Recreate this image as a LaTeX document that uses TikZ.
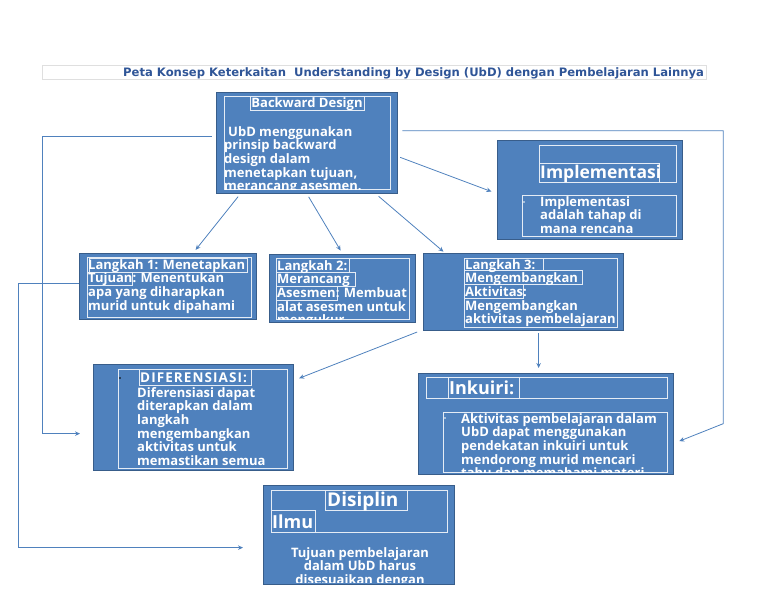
\documentclass[tikz,border=0pt]{standalone}
\usepackage{fontspec}
\setmainfont{Open Sans}
\newfontfamily\headfont{DejaVu Sans}
\usepackage{tikz}
\usetikzlibrary{arrows.meta,positioning,calc}

\definecolor{boxblue}{HTML}{4F81BD}
\definecolor{boxedge}{HTML}{385D8A}
\definecolor{linkblue}{HTML}{4F81BD}
\definecolor{headblue}{HTML}{2F5597}

\newcommand{\ubdfont}{\fontsize{13}{13.7}\selectfont\bfseries}
\newcommand{\bigfont}{\fontsize{18}{20}\selectfont\bfseries}

\tikzset{
    ubdbox/.style={draw=boxedge, line width=1.3pt, fill=boxblue, anchor=north west, inner sep=0pt},
    frame/.style={draw=white!85!boxblue, line width=0.5pt},
    boxtext/.style={text=white, font=\ubdfont, align=left, anchor=north west, inner sep=0pt},
    bigtext/.style={text=white, font=\bigfont, anchor=base west, inner sep=0pt},
    link/.style={draw=linkblue, line width=0.8pt, -{Stealth[length=5pt,width=4.5pt]}}
}

\begin{document}
\begin{tikzpicture}[x=1pt,y=-1pt]
    \useasboundingbox (0,0) rectangle (768,594);

    % Title
    \draw[gray!25, line width=0.5pt] (42,65) rectangle (706,79);
    \node[anchor=base west, inner sep=0pt, text=headblue, font=\headfont\fontsize{11.6}{12}\selectfont\bfseries] (title) at (123,76.5) {Peta Konsep Keterkaitan\ \ Understanding by Design (UbD) dengan Pembelajaran Lainnya};

    % Boxes
    \node[ubdbox, minimum width=181pt, minimum height=101pt] (bd) at (216,92) {};
    \node[ubdbox, minimum width=185pt, minimum height=99pt] (impl) at (497,140) {};
    \node[ubdbox, minimum width=177pt, minimum height=66pt] (l1) at (79,253) {};
    \node[ubdbox, minimum width=146pt, minimum height=68pt] (l2) at (269,254) {};
    \node[ubdbox, minimum width=200pt, minimum height=77pt] (l3) at (423,253) {};
    \node[ubdbox, minimum width=200pt, minimum height=106pt] (dif) at (93,364) {};
    \node[ubdbox, minimum width=255pt, minimum height=101pt] (ink) at (418,373) {};
    \node[ubdbox, minimum width=191pt, minimum height=99pt] (dis) at (263,485) {};

    % Backward Design
    \draw[frame] (224,96) rectangle (390,189);
    \draw[frame] (250,96) rectangle (364,110);
    \node[text=white, font=\ubdfont, inner sep=0pt, anchor=base] (bdhead) at (307,107) {Backward Design};
    \begin{scope}
        \clip (224,96) rectangle (390,189);
        \node[boxtext] (bdtext) at (224,126) {\hspace*{4pt}UbD menggunakan\\prinsip backward\\design dalam\\menetapkan tujuan,\\merancang asesmen.};
    \end{scope}

    % Implementasi
    \draw[frame] (539,145) rectangle (676,182);
    \draw[frame] (539,163) rectangle (659,182);
    \node[bigtext, font=\fontsize{17.5}{20}\selectfont\bfseries] (implhead) at (540,178) {Implementasi};
    \draw[frame] (522,195) rectangle (676,236);
    \fill[white] (524,202) circle (0.8);
    \begin{scope}
        \clip (522,195) rectangle (676,236);
        \node[boxtext] (impltext) at (540,196) {Implementasi\\adalah tahap di\\mana rencana};
    \end{scope}

    % Langkah 1
    \draw[frame] (87,257) rectangle (251,317);
    \draw[frame] (89,258) rectangle (247,272);
    \draw[frame] (87,272) rectangle (132,285);
    \begin{scope}
        \clip (87,257) rectangle (251,317);
        \node[boxtext] (l1text) at (88,259) {Langkah 1: Menetapkan\\Tujuan: Menentukan\\apa yang diharapkan\\murid untuk dipahami};
    \end{scope}

    % Langkah 2
    \draw[frame] (276,258) rectangle (409,319);
    \draw[frame] (276,258) rectangle (349,272);
    \draw[frame] (276,272) rectangle (355,286);
    \draw[frame] (276,286) rectangle (337,300);
    \begin{scope}
        \clip (276,258) rectangle (409,319);
        \node[boxtext] (l2text) at (277,260) {Langkah 2:\\Merancang\\Asesmen: Membuat\\alat asesmen untuk\\mengukur};
    \end{scope}

    % Langkah 3
    \draw[frame] (464,258) rectangle (617,327);
    \draw[frame] (464,258) rectangle (543,270);
    \draw[frame] (464,270) rectangle (582,284);
    \draw[frame] (464,284) rectangle (523,298);
    \begin{scope}
        \clip (464,258) rectangle (617,327);
        \node[boxtext] (l3text) at (465,259) {Langkah 3:\\Mengembangkan\\Aktivitas:\\Mengembangkan\\aktivitas pembelajaran};
    \end{scope}

    % Diferensiasi
    \draw[frame] (118,369) rectangle (287,468);
    \draw[frame] (139,369) rectangle (251,385);
    \fill[black] (120,378) circle (0.9);
    \node[text=white, font=\fontsize{13.5}{14}\selectfont\bfseries\addfontfeatures{LetterSpace=8}, inner sep=0pt, anchor=base west] (difhead) at (140,382) {DIFERENSIASI:};
    \begin{scope}
        \clip (118,369) rectangle (287,468);
        \node[boxtext] (diftext) at (137,387) {Diferensiasi dapat\\diterapkan dalam\\langkah\\mengembangkan\\aktivitas untuk\\memastikan semua};
    \end{scope}

    % Inkuiri
    \draw[frame] (426,377) rectangle (667,398);
    \draw[frame] (448,377) rectangle (519,398);
    \node[bigtext] (inkhead) at (449,394) {Inkuiri:};
    \draw[frame] (443,412) rectangle (667,472);
    \fill[white] (445,418) circle (0.8);
    \begin{scope}
        \clip (443,412) rectangle (667,472);
        \node[boxtext] (inktext) at (461,413) {Aktivitas pembelajaran dalam\\UbD dapat menggunakan\\pendekatan inkuiri untuk\\mendorong murid mencari\\tahu dan memahami materi};
    \end{scope}

    % Disiplin Ilmu
    \draw[frame] (271,490) rectangle (447,532);
    \draw[frame] (325,490) rectangle (407,510);
    \draw[frame] (271,510) rectangle (315,532);
    \node[bigtext, font=\fontsize{19}{20}\selectfont\bfseries] (dishead) at (327,506) {Disiplin};
    \node[bigtext] (dishead2) at (272,528) {Ilmu};
    \begin{scope}
        \clip (263,485) rectangle (454,582);
        \node[text=white, font=\ubdfont, align=center, anchor=north, inner sep=0pt] (distext) at (360,547) {Tujuan pembelajaran\\dalam UbD harus\\disesuaikan dengan};
    \end{scope}

    % Connectors
    \draw[link, shorten <=3pt, shorten >=4pt] ([xshift=24pt]bd.south west) -- ([xshift=25pt]l1.north);
    \draw[link, shorten <=3pt, shorten >=4pt] (bd.south) -- (l2.north);
    \draw[link, shorten <=3pt, shorten >=2pt] ([xshift=-22pt]bd.south east) -- ([xshift=22pt]l3.north west);
    \draw[link, shorten <=2pt, shorten >=6pt] ([yshift=-13.5pt]bd.east) -- ([yshift=-3.5pt]impl.west);
    \draw[link] ([xshift=-4pt,yshift=6.5pt]bd.west) -- ++(-170,0) |- ([xshift=-13pt,yshift=-16pt]dif.west);
    \draw[link] ([xshift=4pt,yshift=12.5pt]bd.east) -- ++(321,0) -- ++(0,293) -- ([xshift=5pt,yshift=-17pt]ink.east);
    \draw[link] ([yshift=3pt]l1.west) -- ++(-61,0) |- ([xshift=-20pt,yshift=-12.5pt]dis.west);
    \draw[link, shorten <=2pt, shorten >=2pt] ([xshift=-4pt]l3.south west) -- ([xshift=3pt,yshift=-15pt]dif.north east);
    \draw[link, shorten <=2pt, shorten >=5pt] ([xshift=15pt]l3.south) -- ([xshift=-7.5pt]ink.north);
\end{tikzpicture}
\end{document}
